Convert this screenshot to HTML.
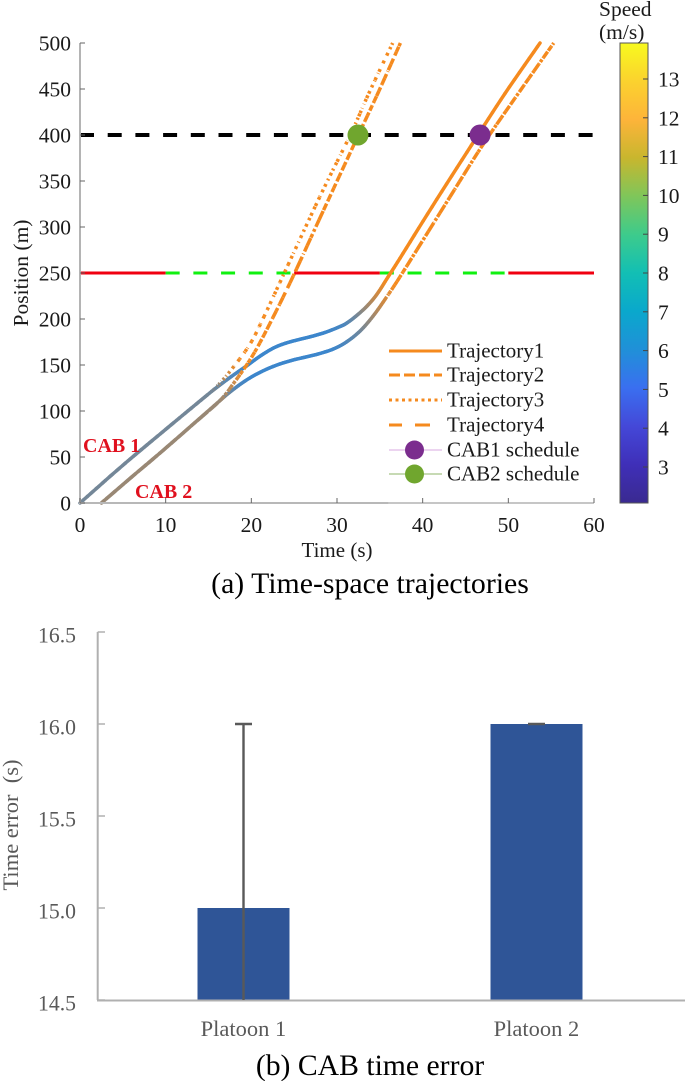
<!DOCTYPE html>
<html lang="en">
<head>
<meta charset="utf-8">
<title>Time-space trajectories and CAB time error</title>
<style>
html,body{margin:0;padding:0;background:#fff;}
body{width:685px;height:1081px;overflow:hidden;}
svg{display:block;font-family:"Liberation Serif",serif;filter:blur(0.35px);}
</style>
</head>
<body>
<svg id="figure" xmlns="http://www.w3.org/2000/svg" width="685" height="1081" viewBox="0 0 685 1081">
  <defs>
    <linearGradient id="speed-gradient" x1="0" y1="0" x2="0" y2="1">
      <stop offset="0" stop-color="#f8fa1e"/>
      <stop offset="0.083" stop-color="#fbd22e"/>
      <stop offset="0.167" stop-color="#fdb43a"/>
      <stop offset="0.25" stop-color="#c8b62e"/>
      <stop offset="0.333" stop-color="#7fc65a"/>
      <stop offset="0.417" stop-color="#3dcb8c"/>
      <stop offset="0.5" stop-color="#12bfb4"/>
      <stop offset="0.583" stop-color="#0aa8cc"/>
      <stop offset="0.667" stop-color="#2090d8"/>
      <stop offset="0.75" stop-color="#3a6ff0"/>
      <stop offset="0.833" stop-color="#4448d8"/>
      <stop offset="0.917" stop-color="#3f2fb8"/>
      <stop offset="1" stop-color="#3a2a90"/>
    </linearGradient>
  </defs>
  <g id="chart-a"></g>
  <g id="chart-b"></g>

  <text transform="translate(28,273) rotate(-90)" text-anchor="middle" font-size="21.5" fill="#1a1a1a">Position (m)</text>
  <text x="337" y="557" text-anchor="middle" font-size="21" fill="#1a1a1a">Time (s)</text>
  <text x="83" y="452" font-size="20" font-weight="bold" fill="#e0101e">CAB 1</text>
  <text x="135" y="498" font-size="20" font-weight="bold" fill="#e0101e">CAB 2</text>
  <text x="599" y="16" font-size="21.5" fill="#1a1a1a">Speed</text>
  <text x="599" y="39" font-size="21.5" fill="#1a1a1a">(m/s)</text>
  <text x="370" y="593" text-anchor="middle" font-size="29.8" fill="#000">(a) Time-space trajectories</text>
  <text transform="translate(18,825) rotate(-90)" text-anchor="middle" font-size="22.5" fill="#595959">Time error&#160; (s)</text>
  <text x="370" y="1075" text-anchor="middle" font-size="29.7" fill="#000">(b) CAB time error</text>
</svg>

<script>
// Chart (a): trajectories (time s, position m, displayed speed tone m/s)
var traj1Time = [0, 5, 10, 14.8, 16.3, 17.9, 19.45, 21, 22.6, 24.1, 25.7, 27.2, 28.8, 30.4, 31.13, 32.2, 33.5, 34.67, 35.95, 37.35, 41.1, 45.7, 49.6, 53.7];
var traj1Pos = [0, 41, 80, 117, 128, 139, 149, 159.5, 168.5, 174, 178, 181.5, 186, 192, 195.5, 203, 214, 227, 245.6, 266, 322, 389, 445, 500];
var traj1Speed = [7.8, 7.8, 7.8, 7.8, 7.5, 6.6, 6, 6, 6, 6, 6, 6, 6, 6.3, 6.6, 7.5, 9, 10.5, 12, 13, 13, 13, 13, 13];

var traj2Time = [2.5, 6, 9.3, 13, 16.3, 17.1, 18.7, 20.2, 21.8, 23.3, 24.9, 26.5, 28, 29.6, 31.1, 32.7, 34.2, 35.8, 37.7, 42.6, 47, 51.3, 55.3];
var traj2Pos = [0, 28, 54, 84, 111, 117.5, 129, 138, 145.5, 151, 155.5, 159, 162.5, 167.5, 175, 187, 203, 224, 251, 324, 389, 447, 500];
var traj2Speed = [9, 9, 9, 9, 9, 8, 6.5, 6, 6, 6, 6, 6, 6, 6, 6.5, 7.5, 9, 11, 12.5, 13, 13, 13, 13];

var traj3Time = [0, 5, 10, 14.8, 16, 17.5, 19.8, 21.5, 23.3, 28, 31.6, 33.7, 36.5];
var traj3Pos = [0, 41, 80, 117, 127, 143, 172, 203, 239, 333, 401, 445, 500];
var traj3Speed = [7.8, 7.8, 7.8, 7.8, 8.5, 11, 12.5, 13, 13, 13, 13, 13, 13];

var traj4Time = [2.5, 6, 9.3, 13, 16.3, 18, 19.8, 21.5, 24.5, 27.9, 32.5, 34.9, 37.4];
var traj4Pos = [0, 28, 54, 84, 111, 131, 155, 183, 239, 307.6, 400, 448, 500];
var traj4Speed = [9, 9, 9, 9, 9, 10.5, 12.5, 13, 13, 13, 13, 13, 13];

var scheduleNames = ["CAB1", "CAB2"];
var scheduleTime = [46.7, 32.45];
var schedulePos = [400, 400];

var greenStart = [10, 35];
var greenEnd = [25, 50];
var redStart = [0, 25, 50];
var redEnd = [10, 35, 60];
var signalPos = 250;
var schedulePosLine = 400;

var xTicks = [0, 10, 20, 30, 40, 50, 60];
var yTicks = [0, 50, 100, 150, 200, 250, 300, 350, 400, 450, 500];
var speedTicks = [3, 4, 5, 6, 7, 8, 9, 10, 11, 12, 13];
var legendLabels = ["Trajectory1", "Trajectory2", "Trajectory3", "Trajectory4", "CAB1 schedule", "CAB2 schedule"];

// Chart (b): bars
var barCategories = ["Platoon 1", "Platoon 2"];
var barValues = [15, 16];
var errorLow = [14.5, 16];
var errorHigh = [16, 16];
var errorTicks = [14.5, 15, 15.5, 16, 16.5];

var NS = "http://www.w3.org/2000/svg";
var chartA = document.getElementById("chart-a");
var chartB = document.getElementById("chart-b");

function make(parent, tag, attrs, content) {
  var node = document.createElementNS(NS, tag);
  for (var k in attrs) node.setAttribute(k, attrs[k]);
  if (content !== undefined) node.textContent = content;
  parent.appendChild(node);
  return node;
}
function sx(t) { return 80 + t * (594 - 80) / 60; }
function sy(p) { return 503 - p * (503 - 43) / 500; }
function sSpeed(v) { return 273 + (8 - v) * 38.8; }
function sErr(v) { return 1000 - (v - 14.5) * 184; }
function barCenter(i) { return 243.5 + i * 293; }

function mixColor(speed) {
  var f = Math.max(0, Math.min(1, (speed - 6) / 6));
  var a = [60, 134, 204], b = [245, 138, 30];
  var c = a.map(function (v, i) { return Math.round(v + (b[i] - v) * f); });
  return "rgb(" + c.join(",") + ")";
}

function drawTrajectory(name, times, positions, speeds, dash, width, solidBelow) {
  var g = make(chartA, "g", {});
  
  
  var pts = times.map(function (t, i) { return [sx(t), sy(positions[i]), speeds[i]]; });
  var travelled = 0;
  for (var i = 0; i < pts.length - 1; i++) {
    var p0 = pts[Math.max(0, i - 1)], p1 = pts[i], p2 = pts[i + 1], p3 = pts[Math.min(pts.length - 1, i + 2)];
    var prev = p1;
    for (var s = 1; s <= 8; s++) {
      var u = s / 8, u2 = u * u, u3 = u2 * u;
      var x = 0.5 * (2 * p1[0] + (p2[0] - p0[0]) * u + (2 * p0[0] - 5 * p1[0] + 4 * p2[0] - p3[0]) * u2 + (3 * p1[0] - p0[0] - 3 * p2[0] + p3[0]) * u3);
      var y = 0.5 * (2 * p1[1] + (p2[1] - p0[1]) * u + (2 * p0[1] - 5 * p1[1] + 4 * p2[1] - p3[1]) * u2 + (3 * p1[1] - p0[1] - 3 * p2[1] + p3[1]) * u3);
      var v = p1[2] + (p2[2] - p1[2]) * u;
      var useDash = dash && v >= solidBelow;
      var attrs = { x1: prev[0], y1: prev[1], x2: x, y2: y, stroke: mixColor(v), "stroke-width": width, "stroke-linecap": useDash ? "butt" : "round" };
      if (useDash) { attrs["stroke-dasharray"] = dash; attrs["stroke-dashoffset"] = -travelled; }
      make(g, "line", attrs);
      travelled += Math.hypot(x - prev[0], y - prev[1]);
      prev = [x, y];
    }
  }
}

// Signal and schedule reference lines
var schedLine = make(chartA, "line", { x1: sx(0), x2: sx(60), y1: sy(schedulePosLine), y2: sy(schedulePosLine), stroke: "#000", "stroke-width": 4, "stroke-dasharray": "14 13.7" });



redStart.forEach(function (start, i) {
  var seg = make(chartA, "line", { x1: sx(start), x2: sx(redEnd[i]), y1: sy(signalPos), y2: sy(signalPos), stroke: "#f00010", "stroke-width": 3 });
  
  
});
greenStart.forEach(function (start, i) {
  var seg = make(chartA, "line", { x1: sx(start), x2: sx(greenEnd[i]), y1: sy(signalPos), y2: sy(signalPos), stroke: "#10f010", "stroke-width": 3, "stroke-dasharray": "14 13.7" });
  
  
});

// Trajectories
drawTrajectory("trajectory-1", traj1Time, traj1Pos, traj1Speed, null, 3.5, 0);
drawTrajectory("trajectory-2", traj2Time, traj2Pos, traj2Speed, "15 1.5 3 1.5", 3.5, 11);
drawTrajectory("trajectory-3", traj3Time, traj3Pos, traj3Speed, "3 4", 3.5, 0);
drawTrajectory("trajectory-4", traj4Time, traj4Pos, traj4Speed, "11 2.5", 3.5, 0);

// Axes of chart (a)
var yAxisLine = make(chartA, "line", { x1: 80, x2: 80, y1: sy(500), y2: sy(0) + 1, stroke: "#b4b4b4", "stroke-width": 2 });


var xAxisLine = make(chartA, "line", { x1: sx(0), x2: sx(36), y1: 503, y2: 503, stroke: "#b8b8b8", "stroke-width": 2 });


var xAxisLineThin = make(chartA, "line", { x1: sx(36), x2: sx(60), y1: 503, y2: 503, stroke: "#8c8c8c", "stroke-width": 1 });



xTicks.forEach(function (t) {
  var mark = make(chartA, "line", { x1: sx(t), x2: sx(t), y1: 503, y2: 498, stroke: "#666", "stroke-width": 1 });
  
  
  var label = make(chartA, "text", { x: sx(t), y: 532, "text-anchor": "middle", "font-size": 21.5, fill: "#1a1a1a" }, String(t));
  
  
});
yTicks.forEach(function (p) {
  var mark = make(chartA, "line", { x1: 80, x2: 85, y1: sy(p), y2: sy(p), stroke: "#666", "stroke-width": 1 });
  
  
  var label = make(chartA, "text", { x: 71, y: sy(p) + 7.5, "text-anchor": "end", "font-size": 21.5, fill: "#1a1a1a" }, String(p));
  
  
});

// Schedule markers
var scheduleColors = ["#7b2d8e", "#70a62e"];
scheduleNames.forEach(function (n, i) {
  var dot = make(chartA, "circle", { cx: sx(scheduleTime[i]), cy: sy(schedulePos[i]), r: 10.5, fill: scheduleColors[i] });
  
  
});

// Colorbar
var cbar = make(chartA, "rect", { x: 620, y: 43, width: 28, height: 460, fill: "url(#speed-gradient)", stroke: "#555", "stroke-width": 1 });


speedTicks.forEach(function (v) {
  var mark = make(chartA, "line", { x1: 643, x2: 648, y1: sSpeed(v), y2: sSpeed(v), stroke: "#444", "stroke-width": 1 });
  
  
  var label = make(chartA, "text", { x: 658, y: sSpeed(v) + 7.5, "font-size": 21.5, fill: "#1a1a1a" }, String(v));
  
  
});

// Legend
var legendY = [351, 375, 400, 425, 450, 474];
var legendDash = [null, "11 4", "3 3.5", "13 13 15 30"];
legendLabels.forEach(function (text, i) {
  if (i < 4) {
    var sample = make(chartA, "line", { x1: 389, x2: 442, y1: legendY[i], y2: legendY[i], stroke: "#f58a1e", "stroke-width": 3 });
    if (legendDash[i]) sample.setAttribute("stroke-dasharray", legendDash[i]);
    
    
  } else {
    var thin = make(chartA, "line", { x1: 389, x2: 442, y1: legendY[i], y2: legendY[i], stroke: i === 4 ? "#d9a8e0" : "#8fb56a", "stroke-width": 1 });
    
    
    var marker = make(chartA, "circle", { cx: 414.5, cy: legendY[i], r: 9.5, fill: scheduleColors[i - 4] });
    
    
  }
  var label = make(chartA, "text", { x: 447, y: legendY[i] + 6.5, "font-size": 21, fill: "#1a1a1a" }, text);
  
  
});

// Chart (b)
var barYAxis = make(chartB, "line", { x1: 97.7, x2: 97.7, y1: sErr(16.5), y2: sErr(14.5), stroke: "#b0b0b0", "stroke-width": 2 });



errorTicks.forEach(function (v) {
  var mark = make(chartB, "line", { x1: 97.7, x2: 105, y1: sErr(v), y2: sErr(v), stroke: "#b0b0b0", "stroke-width": 1.5 });
  
  
  var label = make(chartB, "text", { x: 76, y: sErr(v) + 10.5, "text-anchor": "end", "font-size": 21.7, fill: "#595959" }, v.toFixed(1));
  
  
});

barCategories.forEach(function (cat, i) {
  var bar = make(chartB, "rect", { x: barCenter(i) - 46, y: sErr(barValues[i]), width: 92, height: sErr(14.5) - sErr(barValues[i]), fill: "#2f5597" });
  
  
});

var barBaseline = make(chartB, "line", { x1: 97, x2: 685, y1: 1000.5, y2: 1000.5, stroke: "#b0b0b0", "stroke-width": 2 });



barCategories.forEach(function (cat, i) {
  var stem = make(chartB, "line", { x1: barCenter(i), x2: barCenter(i), y1: sErr(errorHigh[i]), y2: sErr(errorLow[i]), stroke: "#595959", "stroke-width": 2.4 });
  
  
  var cap = make(chartB, "line", { x1: barCenter(i) - 8.5, x2: barCenter(i) + 8.5, y1: sErr(errorHigh[i]), y2: sErr(errorHigh[i]), stroke: "#595959", "stroke-width": 2.4 });
  
  
  var label = make(chartB, "text", { x: barCenter(i), y: 1036, "text-anchor": "middle", "font-size": 22.5, fill: "#595959" }, cat);
  
  
});
</script>
</body>
</html>
